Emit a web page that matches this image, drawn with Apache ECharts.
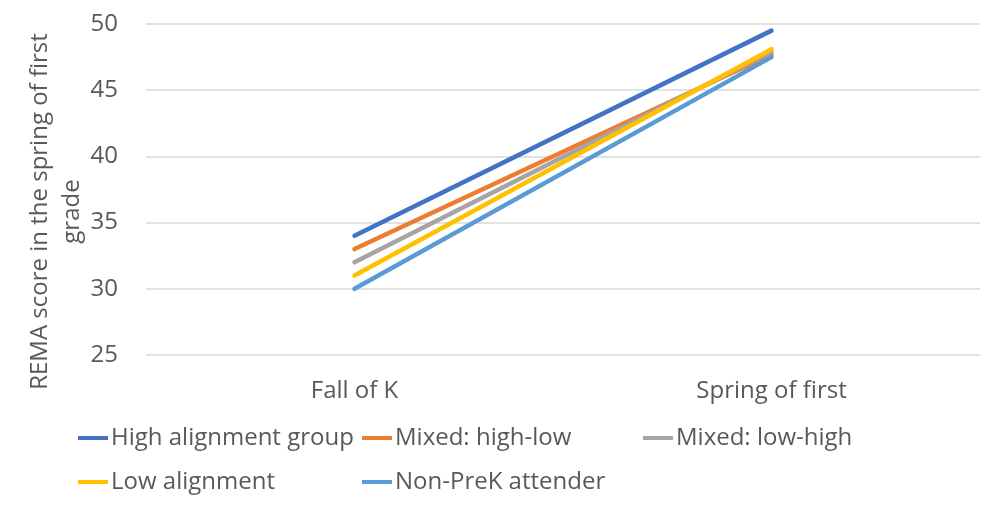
<!DOCTYPE html>
<html lang="en">
<head>
    <meta charset="UTF-8">
    <title>REMA</title>
    <script src="https://cdn.jsdelivr.net/npm/echarts@6/dist/echarts.min.js"></script>
    <style>
        html, body { margin: 0; padding: 0; background: #fff; }
        #chart { width: 1000px; height: 508px; }
    </style>
</head>
<body>
<div id="chart"></div>
<script>
    // data
    var categories = ['Fall of K', 'Spring of first'];
    var seriesNames = ['High alignment group', 'Mixed: high-low', 'Mixed: low-high', 'Low alignment', 'Non-PreK attender'];
    var highAlign = [34, 49.5];
    var mixedHighLow = [33, 47.7];
    var mixedLowHigh = [32, 47.9];
    var lowAlign = [31, 48.1];
    var nonPreK = [30, 47.5];
    var colors = ['#4472C4', '#ED7D31', '#A5A5A5', '#FFC000', '#5B9BD5'];

    var values = [highAlign, mixedHighLow, mixedLowHigh, lowAlign, nonPreK];
    var font = 'Open Sans';
    var textColor = '#595959';

    // legend places, one legend per item (like the excel layout)
    var legendPos = [[78, 426], [362, 426], [643, 426], [78, 470], [362, 470]];
    var legends = seriesNames.map(function (n, i) {
        return {
            data: [n],
            left: legendPos[i][0],
            top: legendPos[i][1],
            padding: 0,
            icon: 'rect',
            itemWidth: 30,
            itemHeight: 4,
            itemGap: 0,
            textStyle: { fontFamily: font, fontSize: 24, color: textColor, padding: [0, 0, 0, -2] }
        };
    });

    var chart = echarts.init(document.getElementById('chart'));
    chart.setOption({
        animation: false,
        color: colors,
        legend: legends,
        grid: { left: 146, right: 20, top: 24, bottom: 153, outerBoundsMode: 'none' },
        xAxis: {
            type: 'category',
            data: categories,
            boundaryGap: true,
            axisLine: { show: false },
            axisTick: { show: false },
            axisLabel: { fontFamily: font, fontSize: 24, color: textColor, margin: 24 }
        },
        yAxis: {
            type: 'value',
            min: 25,
            max: 50,
            interval: 5,
            name: 'REMA score in the spring of first\ngrade',
            nameLocation: 'middle',
            nameGap: 58,
            nameMoveOverlap: false,
            // pushed a bit down like the original
            nameTextStyle: { fontFamily: font, fontSize: 24, color: textColor, lineHeight: 32, padding: [0, 44, 0, 0] },
            axisLine: { show: false },
            axisTick: { show: false },
            axisLabel: { fontFamily: font, fontSize: 24, color: textColor, margin: 28 },
            splitLine: { lineStyle: { color: '#D9D9D9', width: 1.5 } }
        },
        series: values.map(function (v, i) {
            return {
                name: seriesNames[i],
                type: 'line',
                data: v,
                symbol: 'none',
                lineStyle: { width: 4.5, cap: 'round' }
            };
        })
    });
</script>
</body>
</html>
